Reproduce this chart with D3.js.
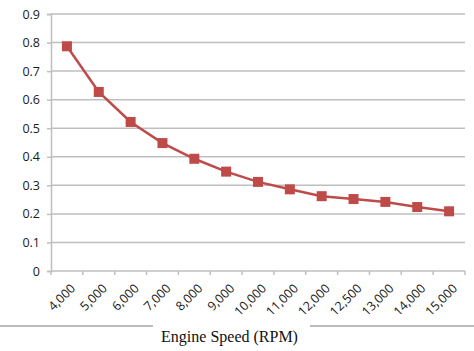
<!DOCTYPE html>
<html>
<head>
<meta charset="utf-8">
<script src="https://cdn.jsdelivr.net/npm/d3@7"></script>
<style>
  body { margin: 0; background: #fff; }
  svg { display: block; }
</style>
</head>
<body>
<div id="wrapper"></div>
<script>
// data
const speeds = ["4,000", "5,000", "6,000", "7,000", "8,000", "9,000", "10,000",
  "11,000", "12,000", "12,500", "13,000", "14,000", "15,000"]
const values = [0.787, 0.627, 0.522, 0.448, 0.393, 0.348, 0.312,
  0.286, 0.262, 0.252, 0.242, 0.224, 0.209]
const yTicks = [0, 0.1, 0.2, 0.3, 0.4, 0.5, 0.6, 0.7, 0.8, 0.9]

const dataset = speeds.map((s, i) => ({ speed: s, value: values[i] }))
const xAccessor = d => d.speed
const yAccessor = d => d.value

let dimensions = {
  width: 474,
  height: 351,
  margins: { top: 14, right: 9, bottom: 80, left: 51 },
}
dimensions.boundedWidth = dimensions.width - dimensions.margins.left - dimensions.margins.right
dimensions.boundedHeight = dimensions.height - dimensions.margins.top - dimensions.margins.bottom

const wrapper = d3.select("#wrapper")
  .append("svg")
  .attr("width", dimensions.width)
  .attr("height", dimensions.height)

const bounds = wrapper.append("g")
  .attr("transform", `translate(${dimensions.margins.left},${dimensions.margins.top})`)

const xScale = d3.scaleBand()
  .domain(speeds)
  .range([0, dimensions.boundedWidth])

const yScale = d3.scaleLinear()
  .domain([0, 0.9])
  .range([dimensions.boundedHeight, 0])

const gridColor = "#bfbfbf"
const labelFont = "'Open Sans', 'DejaVu Sans', sans-serif"

// gridlines
bounds.append("g")
  .selectAll("line")
  .data(yTicks.filter(d => d > 0))
  .join("line")
  .attr("x1", 0)
  .attr("x2", dimensions.boundedWidth)
  .attr("y1", d => yScale(d))
  .attr("y2", d => yScale(d))
  .attr("stroke", gridColor)
  .attr("stroke-width", 1.5)

// y axis
const yAxisGenerator = d3.axisLeft(yScale)
  .tickValues(yTicks)
  .tickFormat(d => d === 0 ? "0" : d3.format(".1f")(d))
  .tickSize(4)
  .tickPadding(7)

const yAxis = bounds.append("g").call(yAxisGenerator)
yAxis.select(".domain").attr("stroke", gridColor).attr("stroke-width", 1.5)
yAxis.selectAll(".tick line").attr("stroke", gridColor).attr("stroke-width", 1.5)
yAxis.selectAll("text")
  .attr("fill", "#1a1a1a")
  .style("font-family", labelFont)
  .style("font-size", "12.5px")

// x axis: ticks sit on band boundaries
const xAxis = bounds.append("g")
  .attr("transform", `translate(0,${dimensions.boundedHeight})`)

xAxis.append("line")
  .attr("x1", 0)
  .attr("x2", dimensions.boundedWidth)
  .attr("stroke", gridColor)
  .attr("stroke-width", 1.5)

const boundaries = speeds.map(s => xScale(s)).concat([dimensions.boundedWidth])
xAxis.selectAll(".xtick")
  .data(boundaries)
  .join("line")
  .attr("class", "xtick")
  .attr("x1", d => d)
  .attr("x2", d => d)
  .attr("y1", 0)
  .attr("y2", 4)
  .attr("stroke", gridColor)
  .attr("stroke-width", 1.5)

xAxis.selectAll(".xlabel")
  .data(speeds)
  .join("text")
  .attr("class", "xlabel")
  .attr("transform", d => `translate(${xScale(d) + xScale.bandwidth() / 2 + 6},${15}) rotate(-45)`)
  .attr("text-anchor", "end")
  .attr("dy", "0.35em")
  .attr("fill", "#1a1a1a")
  .style("font-family", labelFont)
  .style("font-size", "12.5px")
  .text(d => d)

// line + markers
const lineColor = "#be4b48"
const lineGenerator = d3.line()
  .x(d => xScale(xAccessor(d)) + xScale.bandwidth() / 2)
  .y(d => yScale(yAccessor(d)))

bounds.append("path")
  .attr("d", lineGenerator(dataset))
  .attr("fill", "none")
  .attr("stroke", lineColor)
  .attr("stroke-width", 2.5)

const markerSize = 10
bounds.append("g")
  .selectAll("rect")
  .data(dataset)
  .join("rect")
  .attr("x", d => xScale(xAccessor(d)) + xScale.bandwidth() / 2 - markerSize / 2)
  .attr("y", d => yScale(yAccessor(d)) - markerSize / 2)
  .attr("width", markerSize)
  .attr("height", markerSize)
  .attr("fill", lineColor)

// title with rules on either side
const titleY = 342
wrapper.append("text")
  .attr("x", 229.5)
  .attr("y", titleY)
  .attr("text-anchor", "middle")
  .attr("fill", "#111")
  .style("font-family", "'Liberation Serif', 'Times New Roman', serif")
  .style("font-size", "16px")
  .text("Engine Speed (RPM)")

wrapper.append("line")
  .attr("x1", 0).attr("x2", 153)
  .attr("y1", 326).attr("y2", 326)
  .attr("stroke", "#a6a6a6").attr("stroke-width", 1.5)

wrapper.append("line")
  .attr("x1", 310).attr("x2", 474)
  .attr("y1", 326).attr("y2", 326)
  .attr("stroke", "#a6a6a6").attr("stroke-width", 1.5)
</script>
</body>
</html>
